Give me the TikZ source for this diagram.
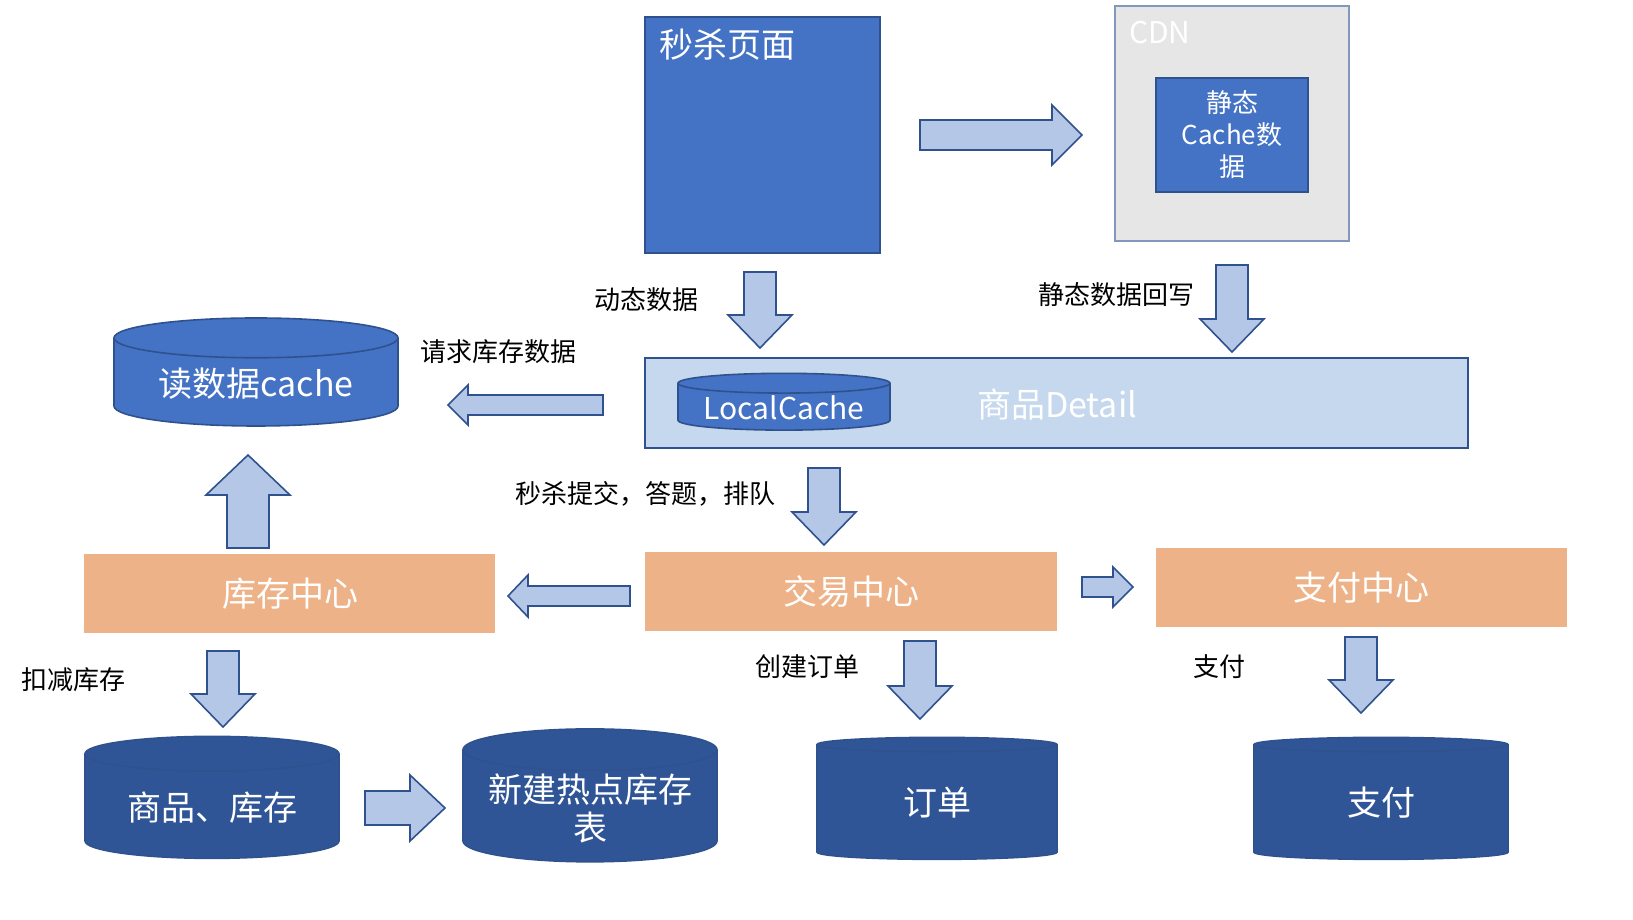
\documentclass[tikz,border=0pt]{standalone}
\usepackage{fontspec}
\setmainfont{Noto Sans CJK SC}
\usetikzlibrary{shapes.geometric}
\definecolor{pageblue}{HTML}{4472C4}
\definecolor{edgeblue}{HTML}{2F528F}
\definecolor{arrowfill}{HTML}{B4C7E7}
\definecolor{detailfill}{HTML}{C5D8EE}
\definecolor{centerfill}{HTML}{EDB288}
\definecolor{dbdark}{HTML}{2F5597}
\definecolor{dbdarktop}{HTML}{8A9CC5}
\definecolor{dblighttop}{HTML}{8FAADC}
\definecolor{cdngray}{HTML}{E7E6E6}
\tikzset{
  box/.style={draw=edgeblue, line width=1pt},
  center/.style={fill=centerfill, text=white, font=\fontsize{17}{20}\selectfont},
  blockarr/.style={draw=edgeblue, fill=arrowfill, line width=0.8pt},
  lbl/.style={font=\fontsize{13}{15}\selectfont},
  db/.style={cylinder, shape border rotate=90, draw=edgeblue, line width=0.8pt,
    cylinder uses custom fill, text=white, align=center, inner sep=1pt},
}
% horizontal block arrow: tail x, tip x, mid y, shaft half, head half, head length
\newcommand\harrow[6]{%
  \pgfmathsetmacro\neck{#2-(#6)*sign(#2-#1)}
  \draw[blockarr] (#1,{#3-#4}) -- (\neck,{#3-#4}) -- (\neck,{#3-#5}) -- (#2,#3)
    -- (\neck,{#3+#5}) -- (\neck,{#3+#4}) -- (#1,{#3+#4}) -- cycle;}
% vertical block arrow: tail y, tip y, mid x, shaft half, head half, head length
\newcommand\varrow[6]{%
  \pgfmathsetmacro\neck{#2-(#6)*sign(#2-#1)}
  \draw[blockarr] ({#3-#4},#1) -- ({#3-#4},\neck) -- ({#3-#5},\neck) -- (#3,#2)
    -- ({#3+#5},\neck) -- ({#3+#4},\neck) -- ({#3+#4},#1) -- cycle;}
\begin{document}
\begin{tikzpicture}[x=0.5pt, y=-0.5pt]
  \useasboundingbox (0,0) rectangle (1633,920);

  % top row
  \draw[box, fill=pageblue] (645,17) rectangle (880,253);
  \node[anchor=north west, text=white, font=\fontsize{17}{20}\selectfont] (page) at (652,22) {秒杀页面};
  \draw[draw=edgeblue!60, line width=1pt, fill=cdngray] (1115,6) rectangle (1349,241);
  \node[anchor=north west, text=white, font=\fontsize{15}{18}\selectfont] (cdn) at (1122,14) {CDN};
  \node[box, fill=pageblue, text=white, minimum width=76pt, minimum height=57pt,
    align=center, font=\fontsize{13}{16}\selectfont] (static) at (1232,135) {静态\\Cache数\\据};
  \harrow{920}{1082}{135}{15}{30}{30}

  \varrow{272}{348}{760}{16}{32}{33}
  \varrow{265}{352}{1232}{16}{32}{33}
  \node[lbl] (dyn) at (646,300) {动态数据};
  \node[lbl] (back) at (1116,295) {静态数据回写};
  \node[lbl] (req) at (498,352) {请求库存数据};

  % detail row
  \node[db, fill=pageblue, cylinder end fill=dblighttop, minimum width=142pt,
    minimum height=54pt, aspect=0.2, font=\fontsize{17}{20}\selectfont] (readcache) at (256,384) {读数据cache};
  \harrow{603}{448}{405}{10}{20}{20}
  \draw[box, fill=detailfill] (645,358) rectangle (1468,448);
  \node[text=white, font=\fontsize{17}{20}\selectfont] (detail) at (1057,405) {商品Detail};
  \node[db, fill=pageblue, cylinder end fill=dblighttop, minimum width=106pt,
    minimum height=22pt, aspect=0.12, font=\fontsize{15}{18}\selectfont] (local) at (784,408) {LocalCache};

  \varrow{468}{545}{824}{16}{32}{33}
  \node[lbl] (submit) at (645,494) {秒杀提交，答题，排队};
  \varrow{548}{455}{248}{21}{42}{40}

  % centers
  \path[center] (84,554) rectangle (495,633);
  \node[text=white, font=\fontsize{17}{20}\selectfont] (stock) at (290,594) {库存中心};
  \path[center] (645,552) rectangle (1057,631);
  \node[text=white, font=\fontsize{17}{20}\selectfont] (trade) at (851,592) {交易中心};
  \path[center] (1156,548) rectangle (1567,627);
  \node[text=white, font=\fontsize{17}{20}\selectfont] (pay) at (1361,588) {支付中心};
  \harrow{630}{508}{596}{10}{21}{20}
  \harrow{1082}{1133}{587}{10}{20}{20}

  \varrow{651}{727}{223}{16}{32}{33}
  \varrow{641}{719}{920}{16}{32}{33}
  \varrow{637}{713}{1361}{16}{32}{33}
  \node[lbl] (deduct) at (73,680) {扣减库存};
  \node[lbl] (create) at (807,667) {创建订单};
  \node[lbl] (paylbl) at (1219,667) {支付};

  % databases
  \node[db, fill=dbdark, cylinder end fill=dbdarktop, minimum width=127pt,
    minimum height=61pt, aspect=0.2, font=\fontsize{17}{20}\selectfont] (goods) at (212,808) {商品、库存};
  \node[db, fill=dbdark, cylinder end fill=dbdarktop, minimum width=127pt,
    minimum height=61pt, aspect=0.2, font=\fontsize{17}{19}\selectfont] (hot) at (590,808) {新建热点库存\\表};
  \node[db, fill=dbdark, cylinder end fill=dbdarktop, minimum width=120pt,
    minimum height=61pt, aspect=0.2, font=\fontsize{17}{20}\selectfont] (order) at (937,803) {订单};
  \node[db, fill=dbdark, cylinder end fill=dbdarktop, minimum width=127pt,
    minimum height=61pt, aspect=0.2, font=\fontsize{17}{20}\selectfont] (paydb) at (1381,803) {支付};
  \harrow{365}{445}{808}{17}{33}{35}
\end{tikzpicture}
\end{document}
